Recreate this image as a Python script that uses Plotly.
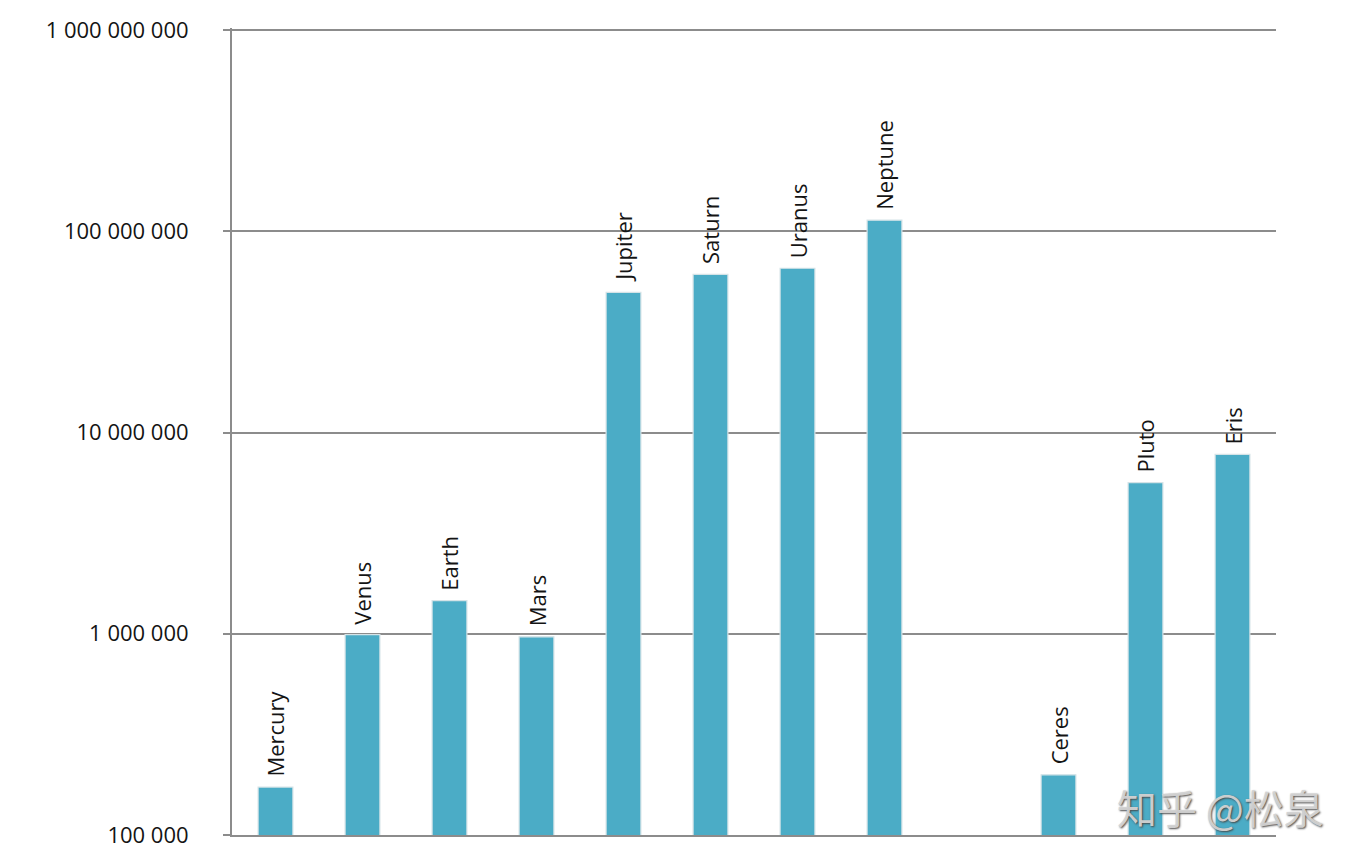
import math
import plotly.graph_objects as go

# bodies on the x axis (blank slot between Neptune and Ceres)
bodies = ["Mercury", "Venus", "Earth", "Mars", "Jupiter", "Saturn", "Uranus",
          "Neptune", "", "Ceres", "Pluto", "Eris"]
values = [173000, 990000, 1460000, 966000, 49700000, 61000000, 65500000,
          113500000, None, 199000, 5640000, 7780000]

tick_vals = [1e5, 1e6, 1e7, 1e8, 1e9]
tick_text = ["100 000", "1 000 000", "10 000 000", "100 000 000", "1 000 000 000"]

BAR = "#4BACC6"
GRID = "#8c8c8c"
FONT = "Open Sans, Noto Sans, sans-serif"

fig = go.Figure()
fig.add_trace(go.Bar(
    x=bodies, y=values,
    marker=dict(color=BAR, line=dict(color="#d5e3e7", width=1.2)),
    width=0.4,
    hoverinfo="x+y",
))

# rotated names above each bar
for name, v in zip(bodies, values):
    if v is None:
        continue
    fig.add_annotation(
        x=name, y=math.log10(v), text=name, textangle=-90,
        showarrow=False, xanchor="center", yanchor="bottom", yshift=8,
        font=dict(family=FONT, size=22, color="#141414"),
    )

# watermark
fig.add_annotation(
    xref="paper", yref="paper", x=1.048, y=-0.004, xanchor="right", yanchor="bottom",
    text="知乎 @松泉", showarrow=False,
    font=dict(family="Noto Sans CJK SC", size=40, color="rgba(212,212,212,0.95)",
              shadow="1px 1px 2px #444"),
)

fig.update_layout(
    width=1354, height=856,
    margin=dict(l=224, r=86, t=20, b=29),
    plot_bgcolor="white", paper_bgcolor="white",
    showlegend=False, bargap=0.6,
)
fig.update_xaxes(
    type="category", showticklabels=False, showgrid=False, automargin=False,
    showline=True, linecolor=GRID, linewidth=2, ticks="",
)
fig.update_yaxes(
    type="log", range=[5, 9.01], tickvals=tick_vals, ticktext=tick_text,
    showgrid=True, gridcolor=GRID, gridwidth=1.5, automargin=False,
    showline=True, linecolor=GRID, linewidth=2,
    ticks="outside", ticklen=7, tickcolor=GRID, tickwidth=2,
    ticklabelstandoff=30,
    tickfont=dict(family=FONT, size=22, color="#141414"),
    zeroline=False,
)

fig.write_html("out.html")
